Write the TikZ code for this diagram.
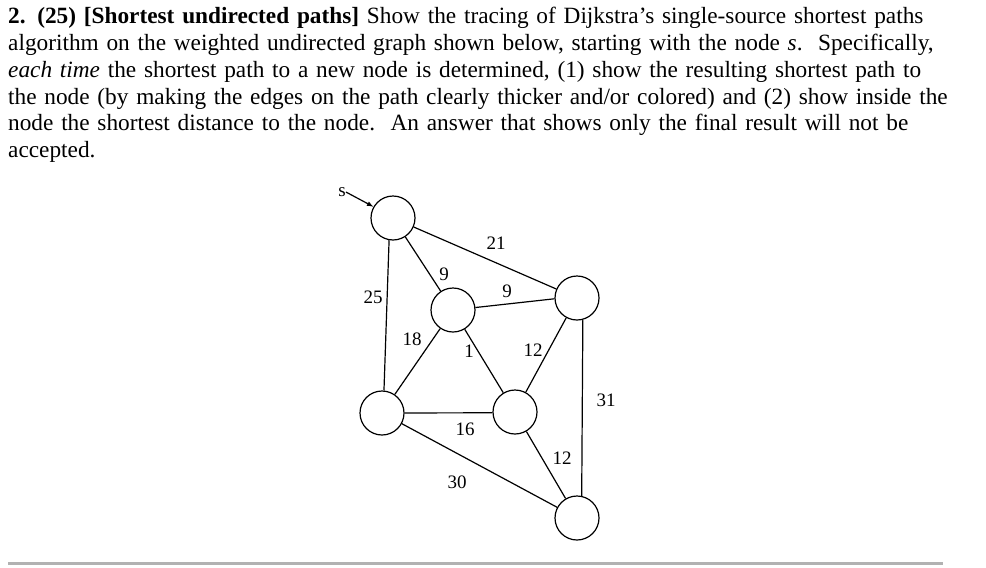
\documentclass[tikz,border=0pt]{standalone}
\usepackage{fontspec}
\setmainfont{Liberation Serif}
\begin{document}
\begin{tikzpicture}[x=1pt,y=-1pt,
  vtx/.style={circle,draw,line width=1.2pt,minimum size=44pt,inner sep=0pt},
  edge/.style={line width=1.2pt},
  wt/.style={font=\fontsize{19}{19}\selectfont,inner sep=0pt}]
\useasboundingbox (0,0) rectangle (986,568);
\node[anchor=north west,text width=975pt,align=left,inner sep=0pt,font=\fontsize{23.3}{26.8}\selectfont] (txt) at (8,7)
{\textbf{2. (25) [Shortest undirected paths]} Show the tracing of Dijkstra's single-source shortest paths\\
algorithm on the weighted undirected graph shown below, starting with the node \textit{s}.\ \ Specifically,\\
\textit{each time} the shortest path to a new node is determined, (1) show the resulting shortest path to\\
the node (by making the edges on the path clearly thicker and/or colored) and (2) show inside the\\
node the shortest distance to the node.\ \ An answer that shows only the final result will not be\\
accepted.};
\node[vtx] (A) at (393,218) {};
\node[vtx] (B) at (453,310) {};
\node[vtx] (C) at (577,298) {};
\node[vtx] (D) at (382,413) {};
\node[vtx] (E) at (515,412) {};
\node[vtx] (F) at (577,518) {};
\node[wt] (s) at (342,192) {s};
\draw[edge,-latex] (s.east) -- (A.150);
\draw[edge] (A.-100) -- (D.85);
\draw[edge] (A) -- (B);
\draw[edge] (A) -- (C);
\draw[edge] (B) -- (C.182);
\draw[edge] (B) -- (D);
\draw[edge] (B) -- (E);
\draw[edge] (C) -- (E);
\draw[edge] (C.-75) -- (F.78);
\draw[edge] (D) -- (E.182);
\draw[edge] (D) -- (F);
\draw[edge] (E) -- (F);
\node[wt] (w1) at (496,243) {21};
\node[wt] (w2) at (444,274) {9};
\node[wt] (w3) at (507,291) {9};
\node[wt] (w4) at (373,297) {25};
\node[wt] (w5) at (412,339) {18};
\node[wt] (w6) at (469,351) {1};
\node[wt] (w7) at (533,350) {12};
\node[wt] (w8) at (606,400) {31};
\node[wt] (w9) at (465,429) {16};
\node[wt] (w10) at (562,458) {12};
\node[wt] (w11) at (457,482) {30};
\draw[line width=3pt,gray!60] (8,563) -- (943,563);
\end{tikzpicture}
\end{document}
